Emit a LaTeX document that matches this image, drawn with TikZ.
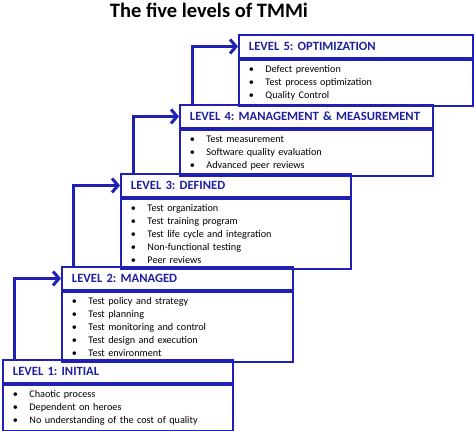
\documentclass[tikz,border=0pt]{standalone}
\usepackage{fontspec}
\setmainfont{Carlito}
\usepackage{tikz}
\usetikzlibrary{arrows.meta}
\definecolor{lvlblue}{RGB}{32,32,180}
\definecolor{lvltext}{RGB}{30,30,160}
\frenchspacing

\newcommand{\itm}[1]{\makebox[16.5pt][l]{\textbullet}#1}

\begin{document}
\begin{tikzpicture}[x=1pt, y=-1pt,
    head/.style={draw=lvlblue, line width=1.9pt, anchor=north west, minimum height=23pt,
        inner xsep=10pt, inner ysep=0pt, align=left, text=lvltext,
        font=\fontsize{12.6}{13}\selectfont\bfseries},
    body/.style={draw=lvlblue, line width=1.9pt, anchor=north west,
        inner xsep=10pt, inner ysep=0pt, align=left,
        font=\fontsize{10.2}{13}\selectfont},
    flow/.style={draw=lvlblue, line width=3pt, line cap=rect,
        -{Straight Barb[length=6pt, width=14pt]}}]
    \useasboundingbox (0,0) rectangle (474,431);
    \node [font=\fontsize{20.5}{24}\selectfont\bfseries] (title) at (209,10) {The five levels of TMMi};
    % level 1
    \node [head, text width=210pt] (h1) at (2,359) {LEVEL 1: INITIAL};
    \node [body, text width=210pt, minimum height=46pt] (b1) at (h1.south west)
        {\itm{Chaotic process}\\ \itm{Dependent on heroes}\\ \itm{No understanding of the cost of quality}};
    % level 2
    \node [head, text width=211pt] (h2) at (61,266) {LEVEL 2: MANAGED};
    \node [body, text width=211pt, minimum height=70pt] (b2) at (h2.south west)
        {\itm{Test policy and strategy}\\ \itm{Test planning}\\ \itm{Test monitoring and control}\\
         \itm{Test design and execution}\\ \itm{Test environment}};
    % level 3
    \node [head, text width=210pt] (h3) at (120,173) {LEVEL 3: DEFINED};
    \node [body, text width=210pt, minimum height=70pt] (b3) at (h3.south west)
        {\itm{Test organization}\\ \itm{Test training program}\\ \itm{Test life cycle and integration}\\
         \itm{Non-functional testing}\\ \itm{Peer reviews}};
    % level 4
    \node [head, text width=233pt] (h4) at (179,104) {LEVEL 4: MANAGEMENT \& MEASUREMENT};
    \node [body, text width=233pt, minimum height=46pt] (b4) at (h4.south west)
        {\itm{Test measurement}\\ \itm{Software quality evaluation}\\ \itm{Advanced peer reviews}};
    % level 5
    \node [head, text width=214pt] (h5) at (238,34) {LEVEL 5: OPTIMIZATION};
    \node [body, text width=214pt, minimum height=46pt] (b5) at (h5.south west)
        {\itm{Defect prevention}\\ \itm{Test process optimization}\\ \itm{Quality Control}};
    % steps up
    \draw [flow] ([xshift=12pt]h1.north west) |- (h2.west);
    \draw [flow] ([xshift=12pt]h2.north west) |- (h3.west);
    \draw [flow] ([xshift=13pt]h3.north west) |- (h4.west);
    \draw [flow] ([xshift=13pt]h4.north west) |- (h5.west);
\end{tikzpicture}
\end{document}
